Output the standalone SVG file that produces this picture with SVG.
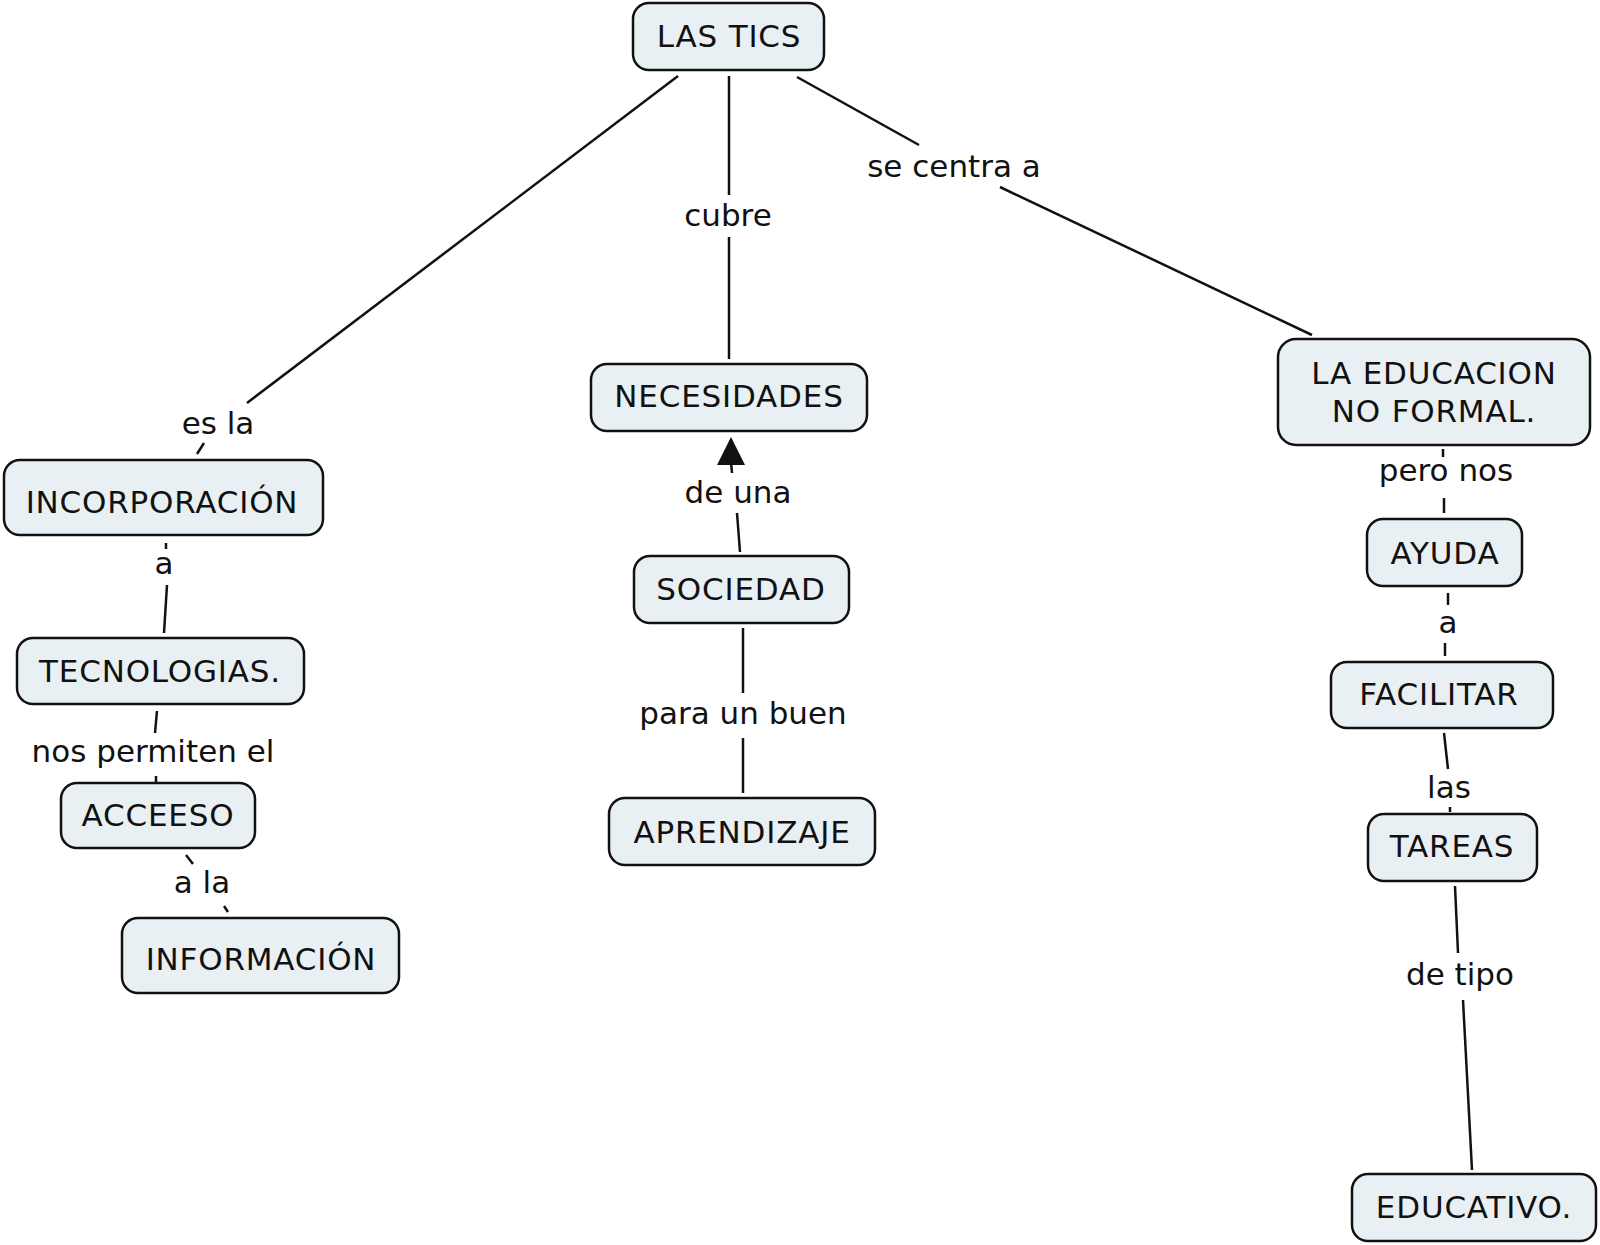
<svg xmlns="http://www.w3.org/2000/svg" width="1600" height="1245" viewBox="0 0 1600 1245">
<style>
.box{fill:#e9f0f3;stroke:#111;stroke-width:2.5}
.t{font-family:"DejaVu Sans",Verdana,sans-serif;font-size:31px;fill:#111;text-anchor:middle}
.n{letter-spacing:0.8px}
.c{stroke:#111;stroke-width:2.5;fill:none}
</style>
<rect width="1600" height="1245" fill="#fff"/>
<g id="connectors">
<line class="c" x1="678" y1="76" x2="247" y2="403"/>
<line class="c" x1="204" y1="443" x2="197" y2="454"/>
<line class="c" x1="729" y1="76" x2="729" y2="195"/>
<line class="c" x1="729" y1="237" x2="729" y2="359"/>
<line class="c" x1="797" y1="77" x2="919" y2="145"/>
<line class="c" x1="1000" y1="187" x2="1312" y2="335"/>
<line class="c" x1="166" y1="543" x2="166" y2="549"/>
<line class="c" x1="167" y1="585" x2="164" y2="633"/>
<line class="c" x1="157" y1="711" x2="155" y2="733"/>
<line class="c" x1="156" y1="776" x2="156" y2="782"/>
<line class="c" x1="186" y1="855" x2="193" y2="864"/>
<line class="c" x1="224" y1="906" x2="228" y2="912"/>
<line class="c" x1="740" y1="552" x2="737" y2="513"/>
<line class="c" x1="732" y1="473" x2="731" y2="462"/>
<path d="M717,465 L731,437 L745,465 z" fill="#111"/>
<line class="c" x1="743" y1="628" x2="743" y2="693"/>
<line class="c" x1="743" y1="738" x2="743" y2="793"/>
<line class="c" x1="1443" y1="449" x2="1443" y2="457"/>
<line class="c" x1="1444" y1="498" x2="1444" y2="513"/>
<line class="c" x1="1448" y1="593" x2="1448" y2="605"/>
<line class="c" x1="1445" y1="643" x2="1445" y2="656"/>
<line class="c" x1="1444" y1="733" x2="1448" y2="769"/>
<line class="c" x1="1450" y1="807" x2="1450" y2="812"/>
<line class="c" x1="1455" y1="886" x2="1458" y2="953"/>
<line class="c" x1="1463" y1="1000" x2="1472" y2="1170"/>
</g>
<g id="labels">
<text class="t" x="218" y="434">es la</text>
<text class="t" x="728" y="226">cubre</text>
<text class="t" x="954" y="177">se centra a</text>
<text class="t" x="164" y="574">a</text>
<text class="t" x="153" y="762">nos permiten el</text>
<text class="t" x="202" y="893">a la</text>
<text class="t" x="738" y="503">de una</text>
<text class="t" x="743" y="724">para un buen</text>
<text class="t" x="1446" y="481">pero nos</text>
<text class="t" x="1448" y="633">a</text>
<text class="t" x="1449" y="798">las</text>
<text class="t" x="1460" y="985">de tipo</text>
</g>
<g id="n-lastics"><rect class="box" x="633" y="3" width="191" height="67" rx="16"/><text class="t n" x="729" y="47">LAS TICS</text></g>
<g id="n-incorporacion"><rect class="box" x="4" y="460" width="319" height="75" rx="16"/><text class="t n" x="162" y="513">INCORPORACIÓN</text></g>
<g id="n-tecnologias"><rect class="box" x="17" y="638" width="287" height="66" rx="16"/><text class="t n" x="160" y="682">TECNOLOGIAS.</text></g>
<g id="n-acceeso"><rect class="box" x="61" y="783" width="194" height="65" rx="16"/><text class="t n" x="158" y="826">ACCEESO</text></g>
<g id="n-informacion"><rect class="box" x="122" y="918" width="277" height="75" rx="16"/><text class="t n" x="261" y="970">INFORMACIÓN</text></g>
<g id="n-necesidades"><rect class="box" x="591" y="364" width="276" height="67" rx="16"/><text class="t n" x="729" y="407">NECESIDADES</text></g>
<g id="n-sociedad"><rect class="box" x="634" y="556" width="215" height="67" rx="16"/><text class="t n" x="741" y="600">SOCIEDAD</text></g>
<g id="n-aprendizaje"><rect class="box" x="609" y="798" width="266" height="67" rx="16"/><text class="t n" x="742" y="843">APRENDIZAJE</text></g>
<g id="n-educacion"><rect class="box" x="1278" y="339" width="312" height="106" rx="18"/><text class="t n" x="1434" y="384">LA EDUCACION</text><text class="t n" x="1434" y="422">NO FORMAL.</text></g>
<g id="n-ayuda"><rect class="box" x="1367" y="519" width="155" height="67" rx="16"/><text class="t n" x="1445" y="564">AYUDA</text></g>
<g id="n-facilitar"><rect class="box" x="1331" y="662" width="222" height="66" rx="16"/><text class="t n" x="1439" y="705">FACILITAR</text></g>
<g id="n-tareas"><rect class="box" x="1368" y="814" width="169" height="67" rx="16"/><text class="t n" x="1452" y="857">TAREAS</text></g>
<g id="n-educativo"><rect class="box" x="1352" y="1174" width="244" height="67" rx="16"/><text class="t n" x="1474" y="1218">EDUCATIVO.</text></g>
</svg>
